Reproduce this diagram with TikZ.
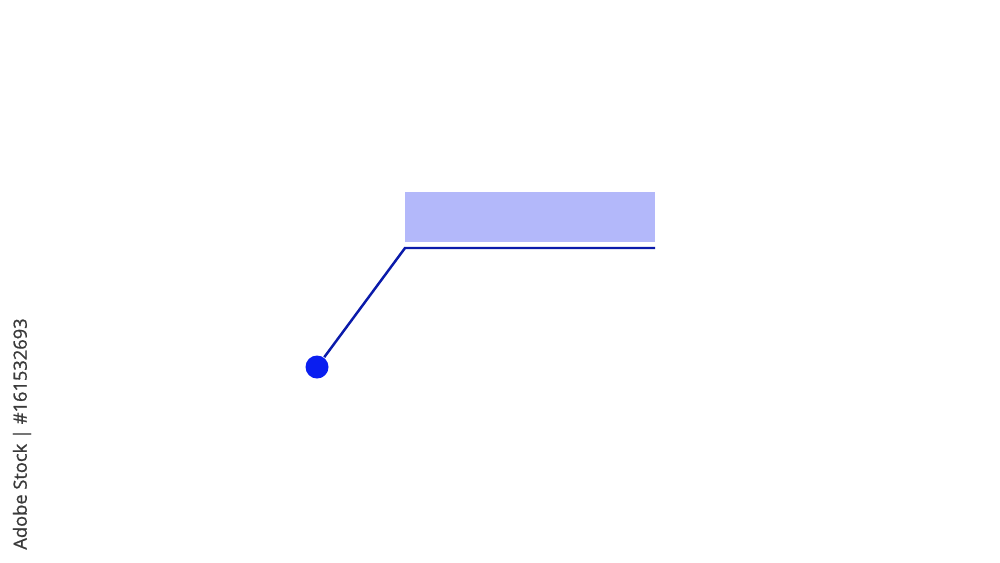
\documentclass[tikz,border=0pt]{standalone}
\usepackage{fontspec}
\newfontfamily\wmfont[FakeBold=0.9]{Open Sans}
\definecolor{boxfill}{HTML}{B3B8FA}
\definecolor{linecol}{HTML}{0A1AAA}
\definecolor{dotcol}{HTML}{0A1EF0}
\definecolor{wmcol}{HTML}{3A3A3A}
\tikzset{
  bar/.style={fill=boxfill, draw=none, minimum width=2.5cm, minimum height=0.5cm, inner sep=0pt, outer sep=0pt},
  connector/.style={draw=linecol, line width=0.7pt},
  bullet/.style={circle, fill=dotcol, draw=none, minimum size=0.23cm, inner sep=0pt},
  wm/.style={text=wmcol, font=\wmfont\fontsize{5.2pt}{6pt}\selectfont, rotate=90, inner sep=0pt}
}
\begin{document}
\begin{tikzpicture}
\useasboundingbox[fill=white] (0,0) rectangle (10,5.62);
\node[bar] (box) at (5.30,3.45) {};
\coordinate (left) at (4.05,3.14);
\coordinate (right) at (6.55,3.14);
\node[bullet] (dot) at (3.17,1.95) {};
\draw[connector] (dot) -- (left) -- (right);
\node[wm] (mark) at (0.22,1.28) {Adobe Stock | \#161532693};
\end{tikzpicture}
\end{document}
